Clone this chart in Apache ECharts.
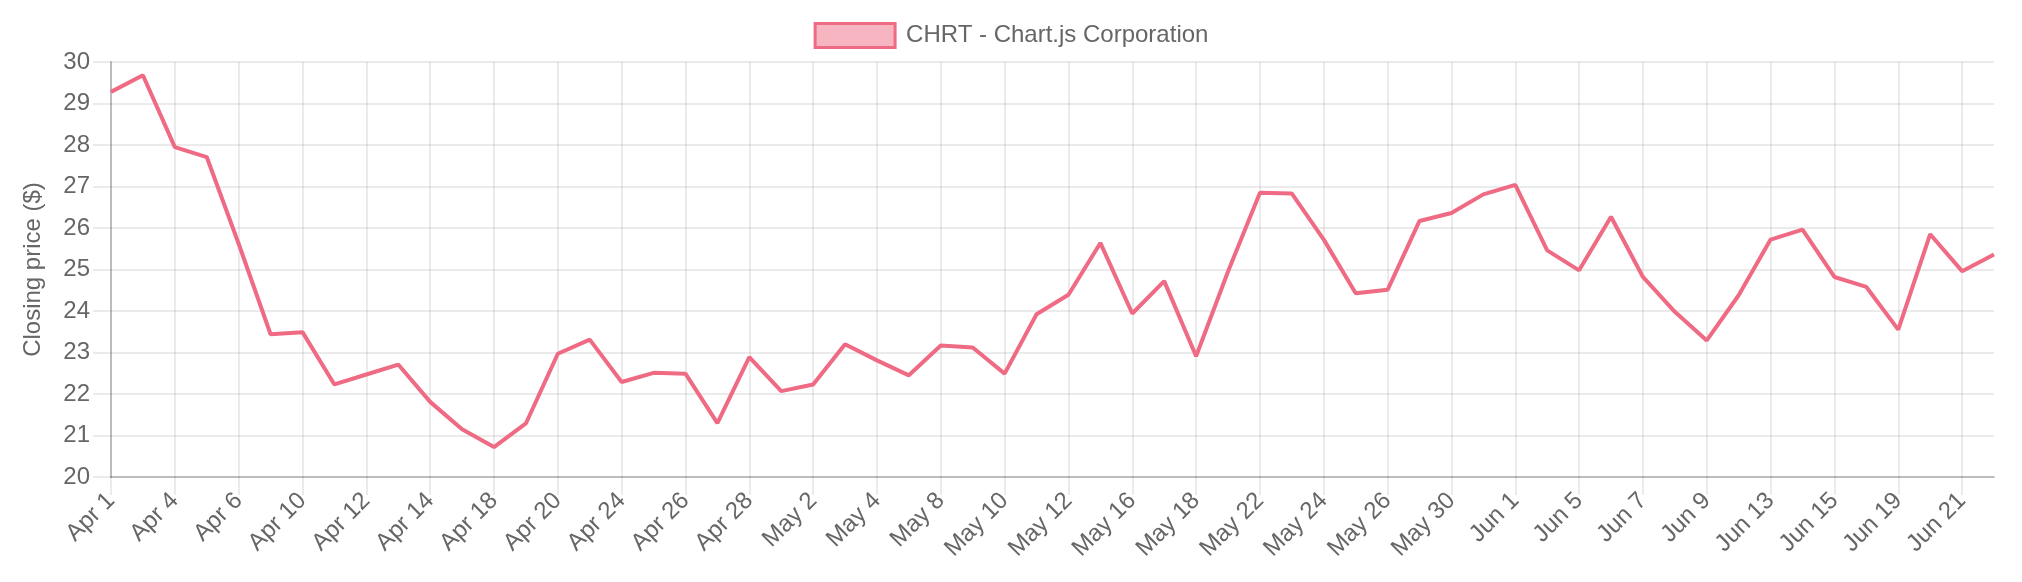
<!DOCTYPE html>
<html>
<head>
<meta charset="utf-8">
<title>CHRT - Chart.js Corporation</title>
<script src="https://cdn.jsdelivr.net/npm/echarts@6/dist/echarts.min.js"></script>
<style>
  html, body { margin: 0; padding: 0; background: #fff; }
  #chart { width: 2022px; height: 582px; }
</style>
</head>
<body>
<div id="chart"></div>
<script>
// trading days (weekends skipped), one point each
var days = [
  'Apr 1', 'Apr 3', 'Apr 4', 'Apr 5', 'Apr 6', 'Apr 7', 'Apr 10', 'Apr 11', 'Apr 12', 'Apr 13',
  'Apr 14', 'Apr 17', 'Apr 18', 'Apr 19', 'Apr 20', 'Apr 21', 'Apr 24', 'Apr 25', 'Apr 26', 'Apr 27',
  'Apr 28', 'May 1', 'May 2', 'May 3', 'May 4', 'May 5', 'May 8', 'May 9', 'May 10', 'May 11',
  'May 12', 'May 15', 'May 16', 'May 17', 'May 18', 'May 19', 'May 22', 'May 23', 'May 24', 'May 25',
  'May 26', 'May 29', 'May 30', 'May 31', 'Jun 1', 'Jun 2', 'Jun 5', 'Jun 6', 'Jun 7', 'Jun 8',
  'Jun 9', 'Jun 12', 'Jun 13', 'Jun 14', 'Jun 15', 'Jun 16', 'Jun 19', 'Jun 20', 'Jun 21', 'Jun 22'
];

// closing prices
var closes = [
  29.28, 29.68, 27.95, 27.71, 25.62, 23.44, 23.49, 22.23, 22.47, 22.71,
  21.81, 21.15, 20.72, 21.29, 22.97, 23.31, 22.29, 22.51, 22.49, 21.30,
  22.89, 22.07, 22.23, 23.20, 22.81, 22.45, 23.17, 23.12, 22.49, 23.92,
  24.39, 25.64, 23.94, 24.72, 22.91, 24.95, 26.85, 26.83, 25.72, 24.43,
  24.51, 26.17, 26.36, 26.81, 27.04, 25.46, 24.98, 26.27, 24.82, 23.98,
  23.29, 24.38, 25.72, 25.96, 24.82, 24.58, 23.55, 25.85, 24.96, 25.36
];

var seriesName = 'CHRT - Chart.js Corporation';
var yTitle = 'Closing price ($)';
var yMin = 20, yMax = 30, yStep = 1;

var red = 'rgb(239, 106, 131)';
var redFill = 'rgba(239, 106, 131, 0.5)';
var font = '"Liberation Sans", Arial, sans-serif';
var textColor = '#666';
var gridColor = 'rgba(0, 0, 0, 0.08)';
var axisColor = 'rgba(0, 0, 0, 0.2)';

var myChart = echarts.init(document.getElementById('chart'));

var option = {
  animation: false,
  textStyle: { fontFamily: font },
  legend: {
    top: 17,
    left: 'center',
    icon: 'rect',
    itemWidth: 80,
    itemHeight: 24,
    itemStyle: { color: redFill, borderColor: red, borderWidth: 3 },
    textStyle: { color: textColor, fontSize: 24, fontFamily: font, padding: [0, 0, 0, 6] },
    data: [seriesName]
  },
  grid: {
    left: 111,
    right: 28,
    top: 62,
    bottom: 105,
    outerBoundsMode: 'none'
  },
  xAxis: {
    type: 'category',
    boundaryGap: false,
    data: days,
    axisLine: { lineStyle: { color: axisColor, width: 2 } },
    axisTick: { show: true, interval: 1, length: 18, lineStyle: { color: gridColor, width: 2 } },
    splitLine: { show: true, interval: 1, lineStyle: { color: gridColor, width: 2 } },
    axisLabel: {
      interval: 1,
      rotate: 45,
      margin: 20,
      color: textColor,
      fontSize: 24,
      fontFamily: font
    }
  },
  yAxis: {
    type: 'value',
    min: yMin,
    max: yMax,
    interval: yStep,
    name: yTitle,
    nameLocation: 'middle',
    nameGap: 66,
    nameTextStyle: { color: textColor, fontSize: 24, fontFamily: font },
    axisLine: { show: true, lineStyle: { color: axisColor, width: 2 } },
    axisTick: { show: true, length: 18, lineStyle: { color: gridColor, width: 2 } },
    splitLine: { show: true, lineStyle: { color: gridColor, width: 2 } },
    axisLabel: { margin: 21, color: textColor, fontSize: 24, fontFamily: font }
  },
  series: [{
    name: seriesName,
    type: 'line',
    data: closes,
    symbol: 'none',
    smooth: false,
    lineStyle: { color: red, width: 4 },
    itemStyle: { color: redFill, borderColor: red }
  }]
};

myChart.setOption(option);
</script>
</body>
</html>
